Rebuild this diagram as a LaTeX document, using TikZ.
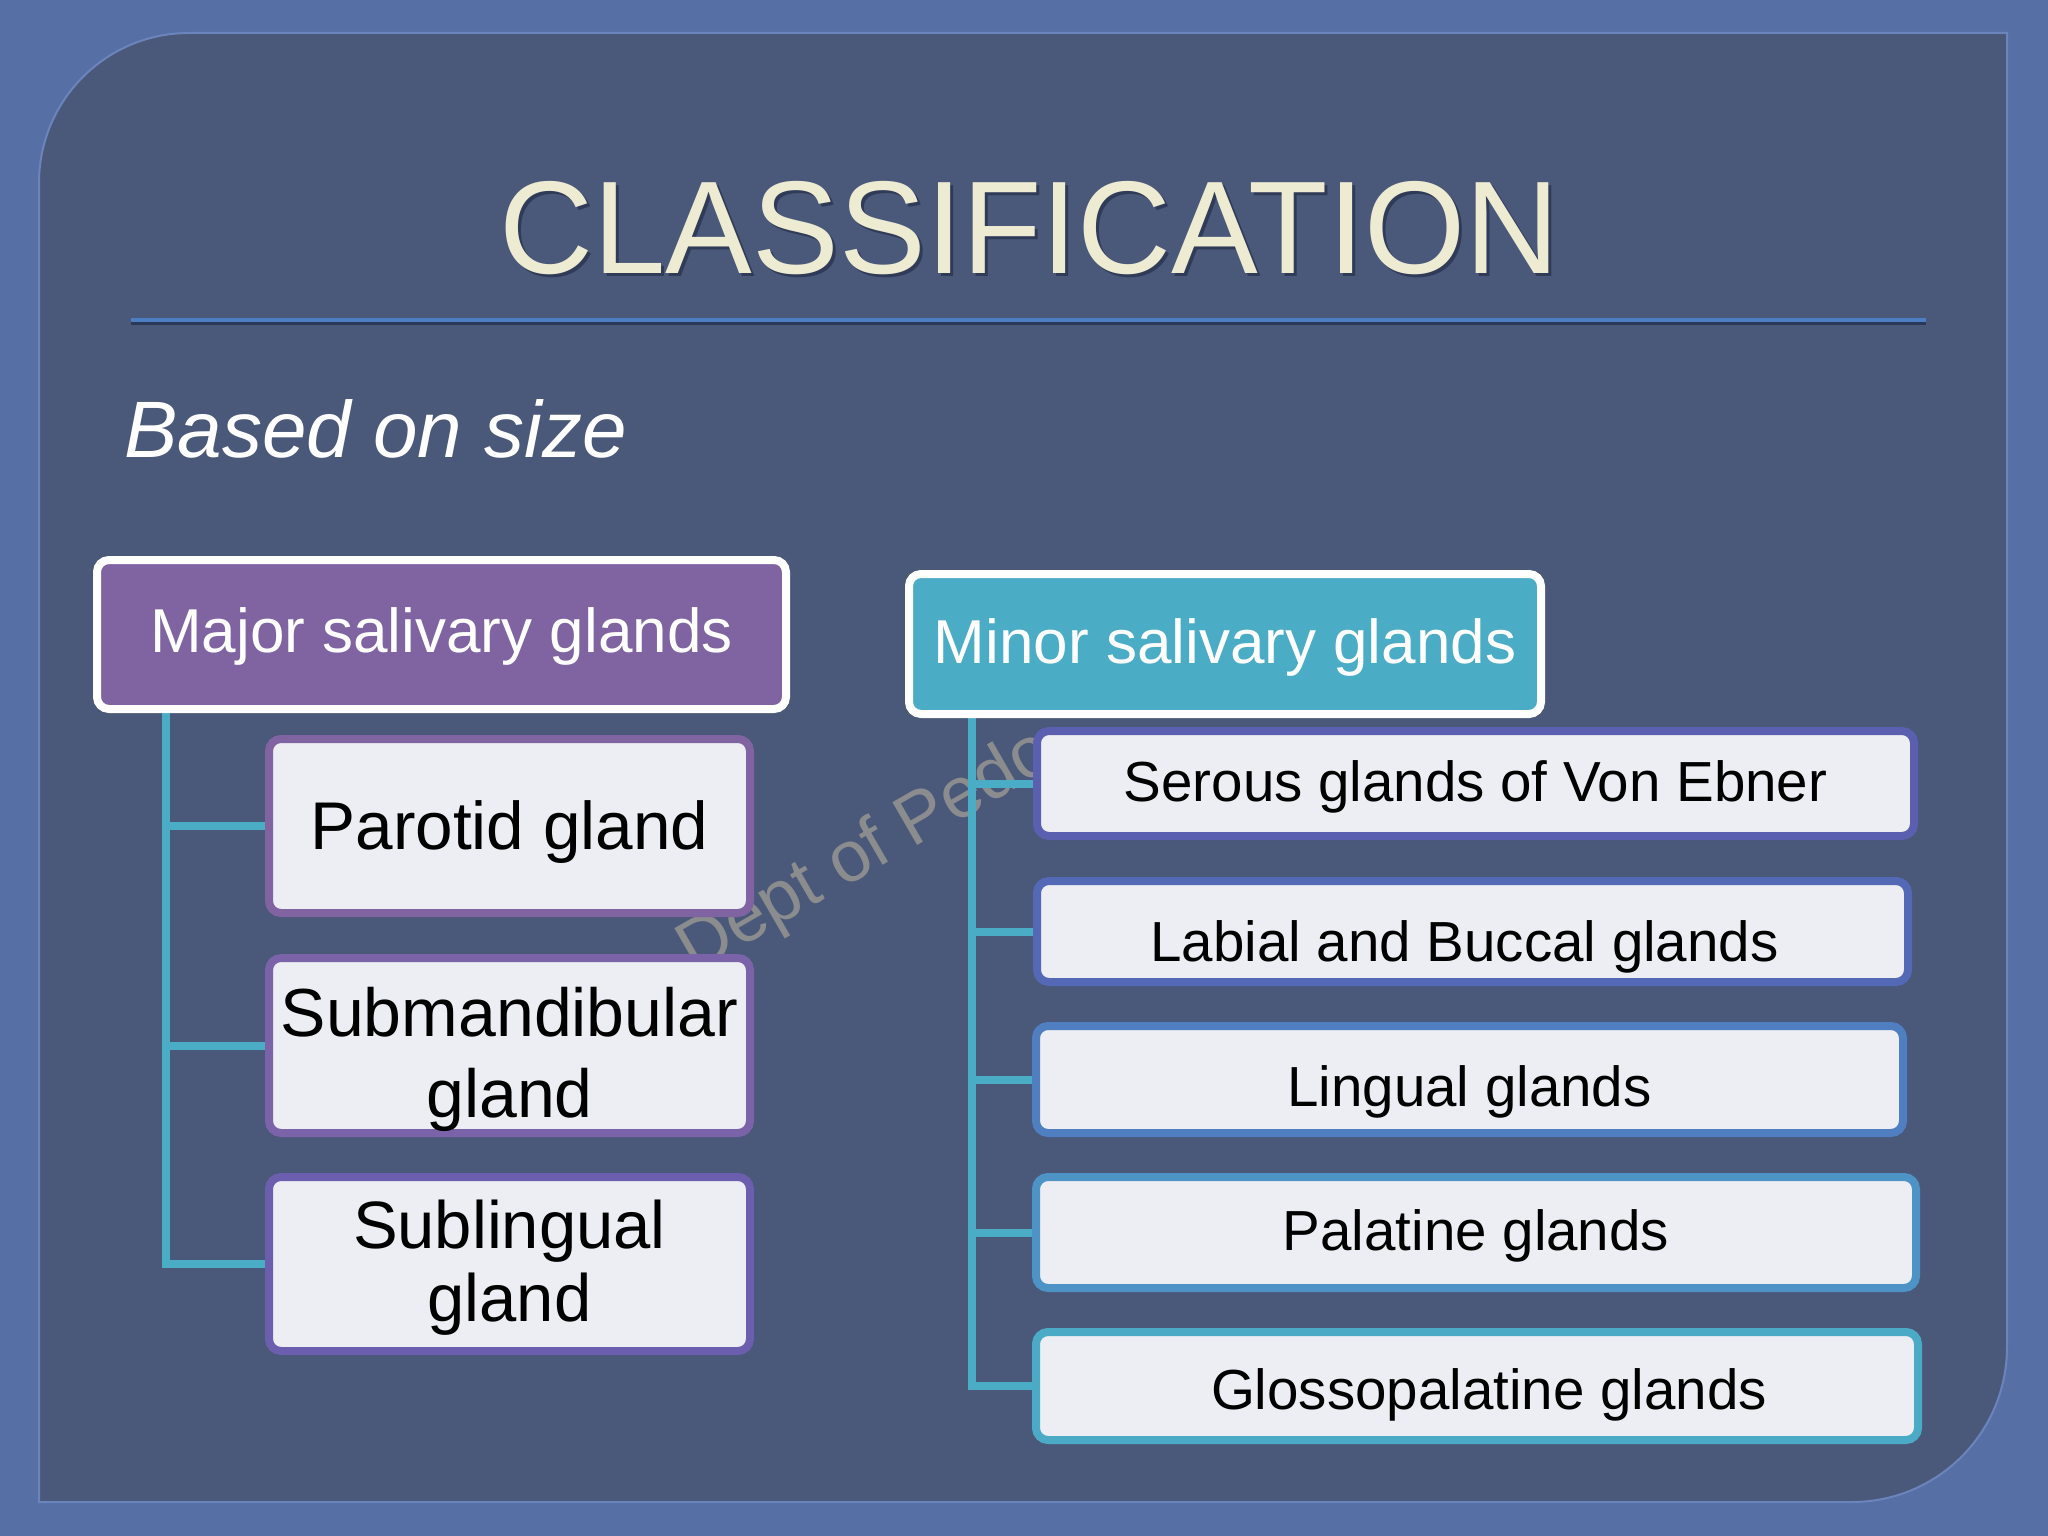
\documentclass[tikz,border=0pt]{standalone}
\usepackage{fontspec}
\setmainfont{Liberation Sans}
\usepackage{graphicx}
\usetikzlibrary{calc}
\pgfdeclarelayer{back}
\pgfdeclarelayer{mid}
\pgfsetlayers{back,mid,main}
\definecolor{outerbg}{HTML}{5670A6}
\definecolor{panelbg}{HTML}{4A5879}
\definecolor{panelhi}{HTML}{6C84BC}
\definecolor{titlecol}{HTML}{EEEBD3}
\definecolor{titleshadow}{HTML}{262F4A}
\definecolor{linehi}{HTML}{4D7DC2}
\definecolor{linelo}{HTML}{2B3858}
\definecolor{majorcol}{HTML}{8064A2}
\definecolor{minorcol}{HTML}{4BACC6}
\definecolor{boxfill}{HTML}{EDEEF3}
\definecolor{wmcol}{HTML}{8A8C8E}
\definecolor{bParotid}{HTML}{8064A2}
\definecolor{bSubm}{HTML}{7A63A9}
\definecolor{bSubl}{HTML}{6B5EAE}
\definecolor{bSerous}{HTML}{5B5FB0}
\definecolor{bLabial}{HTML}{5469B5}
\definecolor{bLingual}{HTML}{4F7FC0}
\definecolor{bPalatine}{HTML}{4E93C6}
\definecolor{bGlosso}{HTML}{4BABC7}
\newcommand\fsz[2]{\fontsize{#1}{#2}\selectfont}
\begin{document}
\begin{tikzpicture}[x=1pt,y=-1pt,
  headbox/.style={draw=white, line width=8pt, rounded corners=12pt, inner sep=0pt, outer sep=0pt, text=white, font=\fsz{62}{72}, text depth=0pt},
  leafbox/.style={draw=#1, fill=boxfill, line width=8pt, rounded corners=12pt, inner sep=0pt, outer sep=0pt, text=black, text depth=0pt},
  rightleaf/.style={leafbox=#1, font=\fsz{56.5}{66}},
  conn/.style={draw=minorcol, line width=8pt},
]
\useasboundingbox (0,0) rectangle (2048,1536);

\begin{pgfonlayer}{back}
\fill[outerbg] (0,0) rectangle (2048,1536);
\fill[panelbg] (39,183) arc[start angle=180,end angle=90,radius=150pt] -- (2007,33) -- (2007,1347) arc[start angle=0,end angle=-90,radius=155pt] -- (39,1502) -- cycle;
\draw[panelhi, line width=2pt] (39,183) arc[start angle=180,end angle=90,radius=150pt] -- (2007,33) -- (2007,1347) arc[start angle=0,end angle=-90,radius=155pt] -- (39,1502) -- cycle;
\node[font=\fsz{72}{72}, text=wmcol, anchor=base west, rotate=30, inner sep=0pt] (wm) at (694,975) {Dept of Pedo};
\end{pgfonlayer}

% title
\draw[linehi, line width=3.5pt] (131,320) -- (1926,320);
\draw[linelo, line width=3.3pt] (131,323.4) -- (1926,323.4);
\node[font=\fsz{132}{132}, text=titleshadow, opacity=0.7, anchor=base, inner sep=0pt] (titleshadow) at (1032.5,276.5) {\scalebox{0.985}[1]{CLASSIFICATION}};
\node[font=\fsz{132}{132}, text=titlecol, anchor=base, inner sep=0pt] (title) at (1029.5,273) {\scalebox{0.985}[1]{CLASSIFICATION}};

\node[font=\fsz{80}{80}\itshape, text=white, anchor=base west, inner sep=0pt] (subtitle) at (124,457) {Based on size};

% headers
\node[headbox, fill=majorcol, minimum width=689pt, minimum height=149pt, text height=36.4pt] (major) at (441.5,634.5) {Major salivary glands};
\node[headbox, fill=minorcol, minimum width=632pt, minimum height=140pt, text height=38.4pt] (minor) at (1225,644) {Minor salivary glands};

% major children
\node[leafbox=bParotid, font=\fsz{67.5}{76}, minimum width=481pt, minimum height=174pt, text height=46.3pt] (parotid) at (509.5,826) {Parotid gland};
\node[leafbox=bSubm, font=\fsz{68}{81}, minimum width=481pt, minimum height=175pt, text height=49pt, text depth=66.3pt] (subm) at (509.5,1045.5) {\begin{tabular}[t]{@{}c@{}}Submandibular\\gland\end{tabular}};
\node[leafbox=bSubl, font=\fsz{67}{73}, minimum width=481pt, minimum height=174pt, text height=47.7pt, text depth=78.7pt] (subl) at (509.5,1264) {\begin{tabular}[t]{@{}c@{}}Sublingual\\gland\end{tabular}};

% minor children
\node[rightleaf=bSerous, minimum width=877pt, minimum height=105pt, text height=35.5pt] (serous) at (1475.5,783.5) {Serous glands of Von Ebner};
\node[rightleaf=bLabial, minimum width=871pt, minimum height=101pt, text height=60.5pt] (labial) at (1472.5,931.5) {\hspace{-16pt}Labial and Buccal glands};
\node[rightleaf=bLingual, minimum width=867pt, minimum height=107pt, text height=53.5pt] (lingual) at (1469.5,1079.5) {Lingual glands};
\node[rightleaf=bPalatine, minimum width=880pt, minimum height=111pt, text height=35.5pt] (palatine) at (1476,1232.5) {Palatine glands};
\node[rightleaf=bGlosso, minimum width=882pt, minimum height=108pt, text height=46.5pt] (glosso) at (1477,1386) {\hspace{24pt}Glossopalatine glands};

% connectors
\begin{pgfonlayer}{mid}
\coordinate (lx) at (166,700);
\draw[conn] (major.south -| lx) |- (subl.west);
\draw[conn] (lx |- parotid.west) -- (parotid.west);
\draw[conn] (lx |- subm.west) -- (subm.west);
\coordinate (rx) at (972,700);
\draw[conn] (minor.south -| rx) |- (glosso.west);
\draw[conn] (rx |- serous.west) -- (serous.west);
\draw[conn] (rx |- labial.west) -- (labial.west);
\draw[conn] (rx |- lingual.west) -- (lingual.west);
\draw[conn] (rx |- palatine.west) -- (palatine.west);
\end{pgfonlayer}
\end{tikzpicture}
\end{document}
